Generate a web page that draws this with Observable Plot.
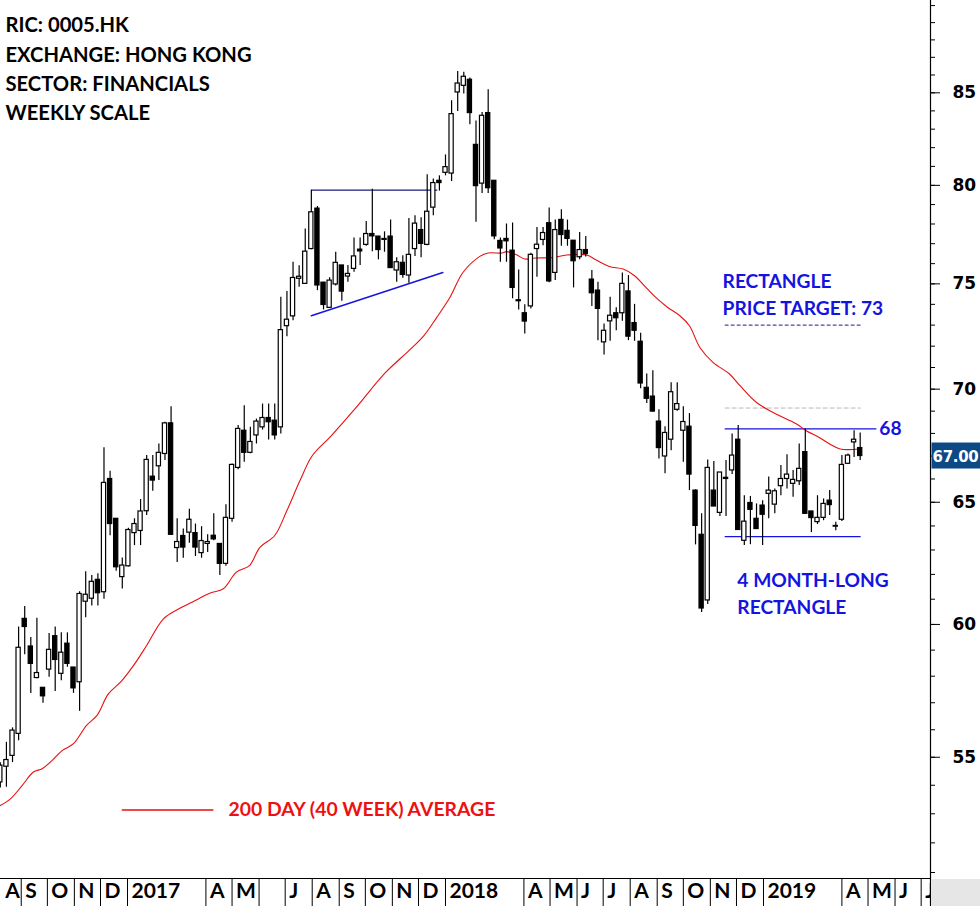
<!DOCTYPE html>
<html><head><meta charset="utf-8">
<script src="https://cdn.jsdelivr.net/npm/d3@7"></script>
<script src="https://cdn.jsdelivr.net/npm/@observablehq/plot@0.6"></script>
<style>
body{margin:0;background:#fff;}
#chart{position:relative;width:980px;height:906px;overflow:hidden;background:#fff;}
</style></head><body><div id="chart"></div>
<script>
// ---- data (weekly candles, Monday-dated, from 2016-08-08 to 2019-04-22) ----
const firstWeek = "2016-08-08", lastWeek = "2019-04-22";
const open  = [54.10,54.66,55.05,55.85,60.22,59.14,57.93,57.56,58.25,59.54,58.09,59.25,58.33,57.77,60.90,61.02,61.78,61.28,66.00,64.30,61.89,62.33,63.70,63.79,64.62,66.10,66.55,67.09,68.45,63.08,63.58,63.72,63.70,62.87,63.25,63.59,63.25,62.43,64.30,66.48,68.12,67.14,67.91,68.27,68.69,68.57,68.27,72.95,73.42,75.25,75.00,76.73,78.79,75.06,73.83,74.97,75.91,75.36,75.74,76.70,76.94,77.49,77.36,77.24,77.36,75.66,76.04,75.41,76.73,77.69,76.94,78.84,80.24,80.66,80.62,85.02,85.39,85.73,82.15,80.09,83.88,80.24,77.14,77.24,76.65,74.20,73.57,73.90,76.73,77.19,78.04,75.54,78.21,77.65,77.15,76.32,76.68,75.21,74.67,72.18,73.18,73.57,73.57,74.63,73.10,72.21,70.06,69.66,68.53,66.98,67.72,69.06,68.12,68.30,65.50,63.63,60.95,65.50,64.55,66.05,66.37,67.72,63.38,64.97,64.30,64.86,65.36,64.90,65.69,66.00,65.79,65.90,67.17,64.61,64.16,64.34,65.07,63.97,64.26,66.66,67.60,67.35];
const high  = [54.80,55.54,56.07,59.90,60.71,59.49,60.24,57.56,59.65,59.90,59.67,59.67,58.33,61.30,62.11,61.96,62.03,67.36,66.33,64.30,62.67,63.90,64.30,65.12,67.02,67.02,67.53,68.50,69.20,64.30,63.87,64.70,64.08,63.97,63.63,64.51,63.25,64.90,66.65,68.35,69.24,68.27,68.64,69.32,69.32,69.32,74.34,74.62,76.07,75.90,77.74,79.75,78.90,75.06,75.30,76.57,75.91,75.91,77.29,77.29,78.13,79.80,77.36,77.60,78.20,76.29,76.40,78.28,78.42,78.32,80.56,80.34,80.50,81.61,84.56,86.19,86.15,85.83,83.45,83.91,85.17,80.24,77.29,78.00,78.05,75.69,73.98,76.52,77.82,77.82,78.82,78.20,78.73,78.20,77.15,77.57,77.36,75.66,75.08,73.05,74.34,73.83,75.53,75.41,74.00,72.61,70.70,70.85,69.06,68.30,70.30,70.30,69.20,68.89,65.53,64.51,66.83,66.76,66.28,66.80,67.97,68.35,65.28,65.25,64.93,65.07,66.08,65.57,66.59,67.06,66.37,67.53,68.20,64.61,65.28,65.14,65.50,64.16,67.02,67.09,68.12,68.02];
const low   = [53.90,53.93,54.81,55.60,58.82,57.35,57.90,56.98,57.96,57.42,57.83,58.34,57.35,56.68,60.26,60.73,60.73,61.00,63.59,62.13,61.41,62.30,63.18,63.18,64.44,65.47,65.93,66.80,63.60,62.49,62.66,63.28,62.73,62.66,62.90,63.38,61.96,62.33,64.16,66.40,66.73,67.10,67.53,68.15,67.71,67.71,67.97,72.45,73.21,74.83,75.00,76.70,74.67,73.73,73.80,74.90,74.15,75.08,75.57,75.91,76.87,76.60,76.19,76.57,75.78,75.08,75.28,75.03,76.36,76.29,76.90,78.42,79.70,80.50,80.20,83.97,84.93,83.24,78.09,79.57,79.57,77.20,76.07,76.07,74.27,73.73,72.58,73.78,75.33,76.90,75.05,75.16,76.87,76.87,74.80,76.19,76.33,73.89,72.26,71.59,72.23,72.73,73.18,72.26,72.23,70.02,69.34,68.95,66.87,66.23,67.23,69.00,66.73,65.50,63.21,60.47,60.79,64.82,64.40,64.40,66.19,63.83,63.18,63.22,63.87,63.18,64.30,64.51,65.28,65.57,65.21,65.72,64.51,63.72,64.06,64.22,64.44,63.80,64.19,66.63,66.94,66.80];
const close = [54.70,54.90,55.97,59.09,59.90,58.47,58.12,57.24,59.01,58.62,58.90,58.47,57.54,61.21,61.18,61.70,61.24,65.83,64.08,62.29,62.36,63.83,64.08,64.61,66.83,65.93,67.14,68.45,63.63,63.33,63.10,64.26,63.10,63.37,63.33,63.44,62.43,64.34,66.61,68.20,67.14,67.62,68.53,68.69,68.50,67.91,72.76,73.26,75.29,75.35,76.60,78.60,74.92,73.97,75.16,76.04,74.62,75.49,76.36,76.61,77.49,77.37,76.68,77.19,75.78,76.07,75.44,76.44,78.02,76.99,78.63,80.12,80.12,80.96,83.82,85.52,85.90,83.88,79.96,83.73,79.85,77.37,76.76,77.12,74.80,74.15,73.17,76.44,76.95,77.54,75.12,77.69,77.44,77.24,76.12,76.68,76.48,74.54,73.78,72.73,73.45,73.33,75.00,72.45,72.73,70.26,69.56,68.98,67.35,68.02,69.86,69.32,68.51,66.19,64.00,60.63,66.48,64.82,66.28,66.00,67.02,63.83,64.18,64.68,63.87,64.47,65.50,65.47,66.00,66.19,65.96,66.44,64.51,64.33,64.34,64.93,64.88,64.00,66.61,67.02,67.72,67.00];

// 40-week moving average
const maDates  = ["2016-08-08","2016-08-20","2016-09-02","2016-09-15","2016-09-25","2016-10-06","2016-10-18","2016-10-31","2016-11-15","2016-11-27","2016-12-10","2016-12-25","2017-01-08","2017-01-23","2017-02-11","2017-02-27","2017-03-16","2017-04-06","2017-04-21","2017-05-06","2017-05-21","2017-06-02","2017-06-19","2017-07-03","2017-07-18","2017-08-01","2017-08-22","2017-09-19","2017-10-24","2017-11-20","2017-12-07","2017-12-22","2018-01-06","2018-01-21","2018-02-09","2018-02-19","2018-03-07","2018-03-12","2018-03-24","2018-04-02","2018-04-14","2018-05-05","2018-05-20","2018-06-12","2018-06-23","2018-07-08","2018-07-24","2018-08-06","2018-08-19","2018-08-31","2018-09-13","2018-09-27","2018-10-08","2018-10-20","2018-11-04","2018-11-23","2018-12-05","2018-12-24","2019-01-12","2019-02-08","2019-02-19","2019-03-07","2019-03-18","2019-03-30","2019-04-21"];
const maValues = [53.29,53.53,53.99,54.47,54.59,54.87,55.24,55.49,56.16,56.53,57.33,57.81,58.41,59.18,60.21,60.58,60.88,61.25,61.42,62.09,62.36,63.11,63.60,64.65,65.93,67.01,67.86,69.10,70.76,71.79,72.49,73.37,74.33,75.56,76.35,76.53,76.53,76.60,76.43,76.23,76.28,76.31,76.43,76.43,76.18,75.86,75.73,75.40,74.83,74.31,73.85,73.45,72.97,71.94,71.24,70.70,70.16,69.39,68.94,68.42,68.12,67.80,67.53,67.31,67.31];

// axis ticks / labels
const yMajor = [55, 60, 65, 70, 75, 80, 85];
const yMinor = d3.range(51, 91);
const monthSeparators = ["2016-09-01","2016-10-01","2016-11-01","2016-12-01","2017-01-01","2017-04-01","2017-05-01","2017-06-01","2017-07-01","2017-08-01","2017-09-01","2017-10-01","2017-11-01","2017-12-01","2018-01-01","2018-04-01","2018-05-01","2018-06-01","2018-07-01","2018-08-01","2018-09-01","2018-10-01","2018-11-01","2018-12-01","2019-01-01","2019-04-01","2019-05-01","2019-06-01","2019-07-01"];
const monthLabelDates = ["2016-08-09","2016-09-01","2016-10-01","2016-11-01","2016-12-01","2017-01-01","2017-04-01","2017-05-01","2017-07-01","2017-08-01","2017-09-01","2017-10-01","2017-11-01","2017-12-01","2018-01-01","2018-04-01","2018-05-01","2018-06-01","2018-07-01","2018-08-01","2018-09-01","2018-10-01","2018-11-01","2018-12-01","2019-01-01","2019-04-01","2019-05-01","2019-06-01","2019-07-01"];
const monthLabelTexts = ["A","S","O","N","D","2017","A","M","J","A","S","O","N","D","2018","A","M","J","J","A","S","O","N","D","2019","A","M","J","J"];

// annotation values
const headerLines = ["RIC: 0005.HK","EXCHANGE: HONG KONG","SECTOR: FINANCIALS","WEEKLY SCALE"];
const resistance = {from: "2017-07-31", to: "2017-12-22", price: 79.75};
const risingTrend = {from: "2017-07-31", to: "2017-12-29", p1: 73.45, p2: 75.56};
const rectTop = {from: "2018-11-18", to: "2019-05-10", price: 68.2};
const rectBottom = {from: "2018-11-18", to: "2019-04-22", price: 63.55};
const greyLine = {from: "2018-11-18", to: "2019-04-22", price: 69.14};
const targetLine = {from: "2018-11-18", to: "2019-04-22", price: 73.0};
const blueTexts = [
  {date: "2018-11-15", price: 75.11, text: "RECTANGLE"},
  {date: "2018-11-15", price: 73.79, text: "PRICE TARGET: 73"},
  {date: "2018-12-02", price: 61.75, text: "4 MONTH-LONG"},
  {date: "2018-12-02", price: 60.67, text: "RECTANGLE"},
  {date: "2019-05-14", price: 68.2, text: "68"}
];
const legend = {lineFrom: "2016-12-26", lineTo: "2017-04-09", textAt: "2017-04-27", price: 53.13, text: "200 DAY (40 WEEK) AVERAGE"};
const lastPrice = 67.00;

// ---- build tables ----
const D = s => new Date(s + "T00:00Z");
const weeks = d3.utcMonday.range(D(firstWeek), d3.utcDay.offset(D(lastWeek), 1));
const n = Math.min(weeks.length, open.length);
const candles = d3.range(n).map(i => ({date: weeks[i], open: open[i], high: high[i], low: low[i], close: close[i]}));
const ma = d3.range(Math.min(maDates.length, maValues.length)).map(i => ({date: D(maDates[i]), value: maValues[i]}));
const seg = (o, p1, p2) => [{date: D(o.from), price: p1}, {date: D(o.to), price: p2}];

const BLUE = "#1414e0";
const FONT = "Lato, 'Open Sans', sans-serif";

const chart = Plot.plot({
  width: 980, height: 906,
  marginTop: 0, marginBottom: 28, marginLeft: 0, marginRight: 50,
  x: {type: "utc", domain: [new Date("2016-08-08T05:00Z"), new Date("2019-07-11T17:00Z")], axis: null},
  y: {type: "log", domain: [50.8, 90.3], axis: null},
  style: {fontFamily: FONT, background: "white"},
  marks: [
    Plot.line(seg(greyLine, greyLine.price, greyLine.price), {x: "date", y: "price", stroke: "#b8b8b8", strokeDasharray: "4,3", strokeWidth: 1}),
    Plot.line(seg(targetLine, targetLine.price, targetLine.price), {x: "date", y: "price", stroke: "#1a1a8a", strokeDasharray: "3,3", strokeWidth: 1}),
    Plot.line(seg(rectTop, rectTop.price, rectTop.price), {x: "date", y: "price", stroke: BLUE, strokeWidth: 1.2}),
    Plot.line(seg(rectBottom, rectBottom.price, rectBottom.price), {x: "date", y: "price", stroke: BLUE, strokeWidth: 1.2}),
    Plot.line(ma, {x: "date", y: "value", stroke: "#e81010", strokeWidth: 1.1, curve: "catmull-rom"}),
    Plot.line(seg(resistance, resistance.price, resistance.price), {x: "date", y: "price", stroke: "#1c1c7a", strokeWidth: 1.1}),
    Plot.line(seg(risingTrend, risingTrend.p1, risingTrend.p2), {x: "date", y: "price", stroke: BLUE, strokeWidth: 1.4}),
    Plot.ruleX(candles, {x: "date", y1: "low", y2: "high", stroke: "black", strokeWidth: 1.2}),
    Plot.rect(candles, {
      x1: d => d3.utcHour.offset(d.date, -58), x2: d => d3.utcHour.offset(d.date, 58),
      y1: "open", y2: "close",
      fill: d => d.close >= d.open ? "white" : "black", stroke: "black", strokeWidth: 1.2
    }),
    // legend
    Plot.line([{date: D(legend.lineFrom), price: legend.price}, {date: D(legend.lineTo), price: legend.price}], {x: "date", y: "price", stroke: "#e81010", strokeWidth: 1.5}),
    Plot.text([legend], {x: d => D(d.textAt), y: "price", text: "text", textAnchor: "start", fill: "#ee1111", fontSize: 19.4, fontWeight: "bold"}),
    Plot.text(blueTexts, {x: d => D(d.date), y: "price", text: "text", textAnchor: "start", fill: BLUE, fontSize: 19.2, fontWeight: "bold"}),
    Plot.text([headerLines.join("\n")], {frameAnchor: "top-left", dx: 5, dy: 11, lineAnchor: "top", lineHeight: 1.45, textAnchor: "start", fill: "black", fontSize: 20.2, fontWeight: "bold"}),
    // y axis
    Plot.axisY(yMinor, {anchor: "right", tickSize: 4, tickFormat: () => "", label: null, stroke: "black"}),
    Plot.axisY(yMajor, {anchor: "right", tickSize: 9, tickPadding: 13, tickFormat: d => String(d), label: null, fontSize: 17, fontFamily: "DejaVu Sans", fontWeight: "bold", fill: "black"}),
    // x axis band
    Plot.axisX(monthSeparators.map(D), {anchor: "bottom", tickSize: 28, tickFormat: () => "", label: null}),
    Plot.text(monthLabelDates.map((s, i) => ({date: D(s), label: monthLabelTexts[i]})), {x: "date", text: "label", frameAnchor: "bottom", textAnchor: "start", lineAnchor: "top", dx: 4, dy: 5, fontSize: 21, fontWeight: "bold", fill: "black"})
  ]
});

const svg = d3.select(chart);
const yS = chart.scale("y"), xS = chart.scale("x");
const xr = xS.apply(xS.domain[1]);
// frame lines
svg.append("line").attr("x1", 0).attr("x2", xr).attr("y1", 878.5).attr("y2", 878.5).attr("stroke", "black").attr("stroke-width", 1.2);
svg.append("line").attr("x1", xr + 0.5).attr("x2", xr + 0.5).attr("y1", 0).attr("y2", 906).attr("stroke", "black").attr("stroke-width", 1.2);
svg.append("rect").attr("x", xr + 1).attr("y", 879).attr("width", 980 - xr).attr("height", 27).attr("fill", "#e6e6e6");
// last price tag
const yl = yS.apply(lastPrice);
svg.append("rect").attr("x", xr + 1.5).attr("y", yl - 13).attr("width", 60).attr("height", 26).attr("fill", "#0c4a86");
svg.append("text").attr("x", xr + 2.5).attr("y", yl + 6).attr("text-anchor", "start").attr("fill", "white").attr("font-family", "DejaVu Sans").attr("font-weight", "bold").attr("font-size", 15).attr("letter-spacing", -0.3).text(lastPrice.toFixed(2));

document.getElementById("chart").appendChild(chart);
</script>
</body></html>
